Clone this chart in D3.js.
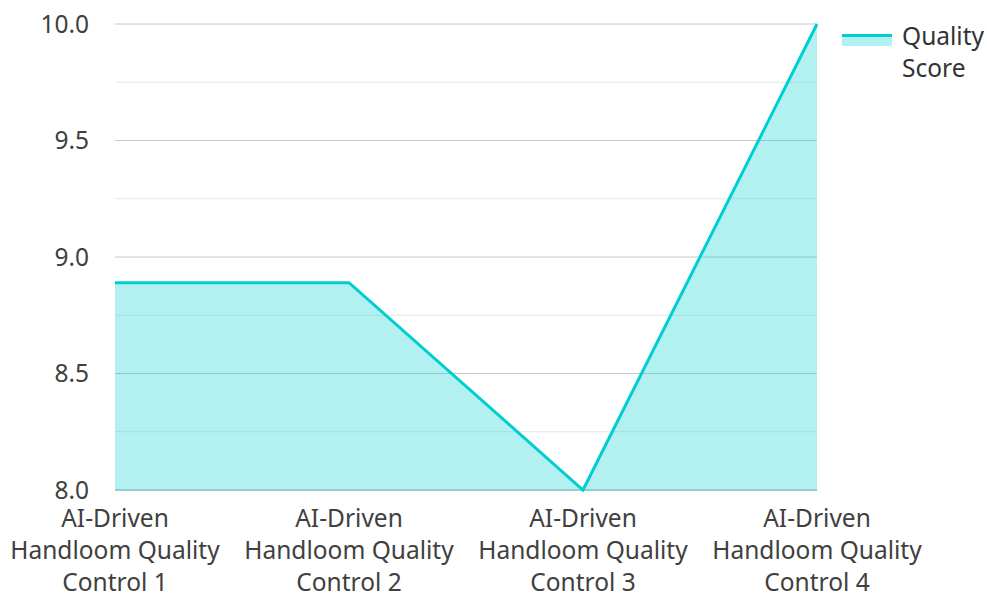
<!DOCTYPE html>
<html>
<head>
<meta charset="utf-8">
<script src="https://cdn.jsdelivr.net/npm/d3@7"></script>
<style>
  html, body { margin: 0; padding: 0; background: #fff; }
  svg { display: block; font-family: "Noto Sans", "Open Sans", sans-serif; }
</style>
</head>
<body>
<svg id="chart" width="987" height="597"></svg>
<script>
// Quality score per control station
const categories = [
  "AI-Driven Handloom Quality Control 1",
  "AI-Driven Handloom Quality Control 2",
  "AI-Driven Handloom Quality Control 3",
  "AI-Driven Handloom Quality Control 4"
];
const qualityScore = [8.89, 8.89, 8.0, 10.0];
const yTicks = [8.0, 8.5, 9.0, 9.5, 10.0];
const yMinorTicks = [8.25, 8.75, 9.25, 9.75];
const seriesName = "Quality Score";

const svg = d3.select("#chart");
const margin = { left: 115, right: 170, top: 24, bottom: 107 };
const W = 987, H = 597;
const innerW = W - margin.left - margin.right;
const innerH = H - margin.top - margin.bottom;
const color = "#00CED1";
const fontSize = 24.5;

const x = d3.scalePoint().domain(categories).range([0, innerW]);
const y = d3.scaleLinear().domain([8, 10]).range([innerH, 0]);

const g = svg.append("g").attr("transform", `translate(${margin.left},${margin.top})`);

// grid lines
g.append("g").selectAll("line.minor").data(yMinorTicks).join("line")
  .attr("x1", 0).attr("x2", innerW)
  .attr("y1", d => y(d)).attr("y2", d => y(d))
  .attr("stroke", "#e6e6e6").attr("stroke-width", 1);
g.append("g").selectAll("line.major").data(yTicks.filter(d => d !== 8)).join("line")
  .attr("x1", 0).attr("x2", innerW)
  .attr("y1", d => y(d)).attr("y2", d => y(d))
  .attr("stroke", "#c8c8c8").attr("stroke-width", 1);

const data = categories.map((c, i) => ({ c, v: qualityScore[i] }));

// area fill
g.append("path").datum(data)
  .attr("fill", color).attr("fill-opacity", 0.3)
  .attr("d", d3.area().x(d => x(d.c)).y0(innerH).y1(d => y(d.v)));

// baseline
g.append("line").attr("x1", 0).attr("x2", innerW)
  .attr("y1", innerH).attr("y2", innerH)
  .attr("stroke", "#8fcfcf").attr("stroke-width", 2);

// line
g.append("path").datum(data)
  .attr("fill", "none").attr("stroke", color).attr("stroke-width", 3)
  .attr("stroke-linejoin", "miter")
  .attr("d", d3.line().x(d => x(d.c)).y(d => y(d.v)));

// y axis labels
g.append("g").selectAll("text").data(yTicks).join("text")
  .attr("x", -26).attr("y", d => y(d)).attr("dy", "0.35em")
  .attr("text-anchor", "end").attr("fill", "#404040").attr("font-size", fontSize)
  .text(d => d.toFixed(1));

// x axis labels, wrapped
function wrapLabel(s) {
  const m = s.match(/^(\S+) (.+) (\S+ \d+)$/);
  return m ? [m[1], m[2], m[3]] : [s];
}
const xl = g.append("g").selectAll("text").data(categories).join("text")
  .attr("text-anchor", "middle").attr("fill", "#404040").attr("font-size", fontSize)
  .attr("transform", d => `translate(${x(d)},${innerH + 37})`);
xl.selectAll("tspan").data(d => wrapLabel(d)).join("tspan")
  .attr("x", 0).attr("dy", (d, i) => i === 0 ? 0 : 32).text(d => d);

// legend
const lg = svg.append("g").attr("transform", `translate(842,34)`);
lg.append("rect").attr("x", 0).attr("y", 0).attr("width", 50).attr("height", 12)
  .attr("fill", color).attr("fill-opacity", 0.3);
lg.append("line").attr("x1", 0).attr("x2", 50).attr("y1", 1.5).attr("y2", 1.5)
  .attr("stroke", color).attr("stroke-width", 3);
lg.append("text").attr("x", 60).attr("y", 2).attr("fill", "#333").attr("font-size", fontSize)
  .selectAll("tspan").data(seriesName.split(" ")).join("tspan")
  .attr("x", 60).attr("dy", (d, i) => i === 0 ? "0.35em" : 32).text(d => d);
</script>
</body>
</html>
